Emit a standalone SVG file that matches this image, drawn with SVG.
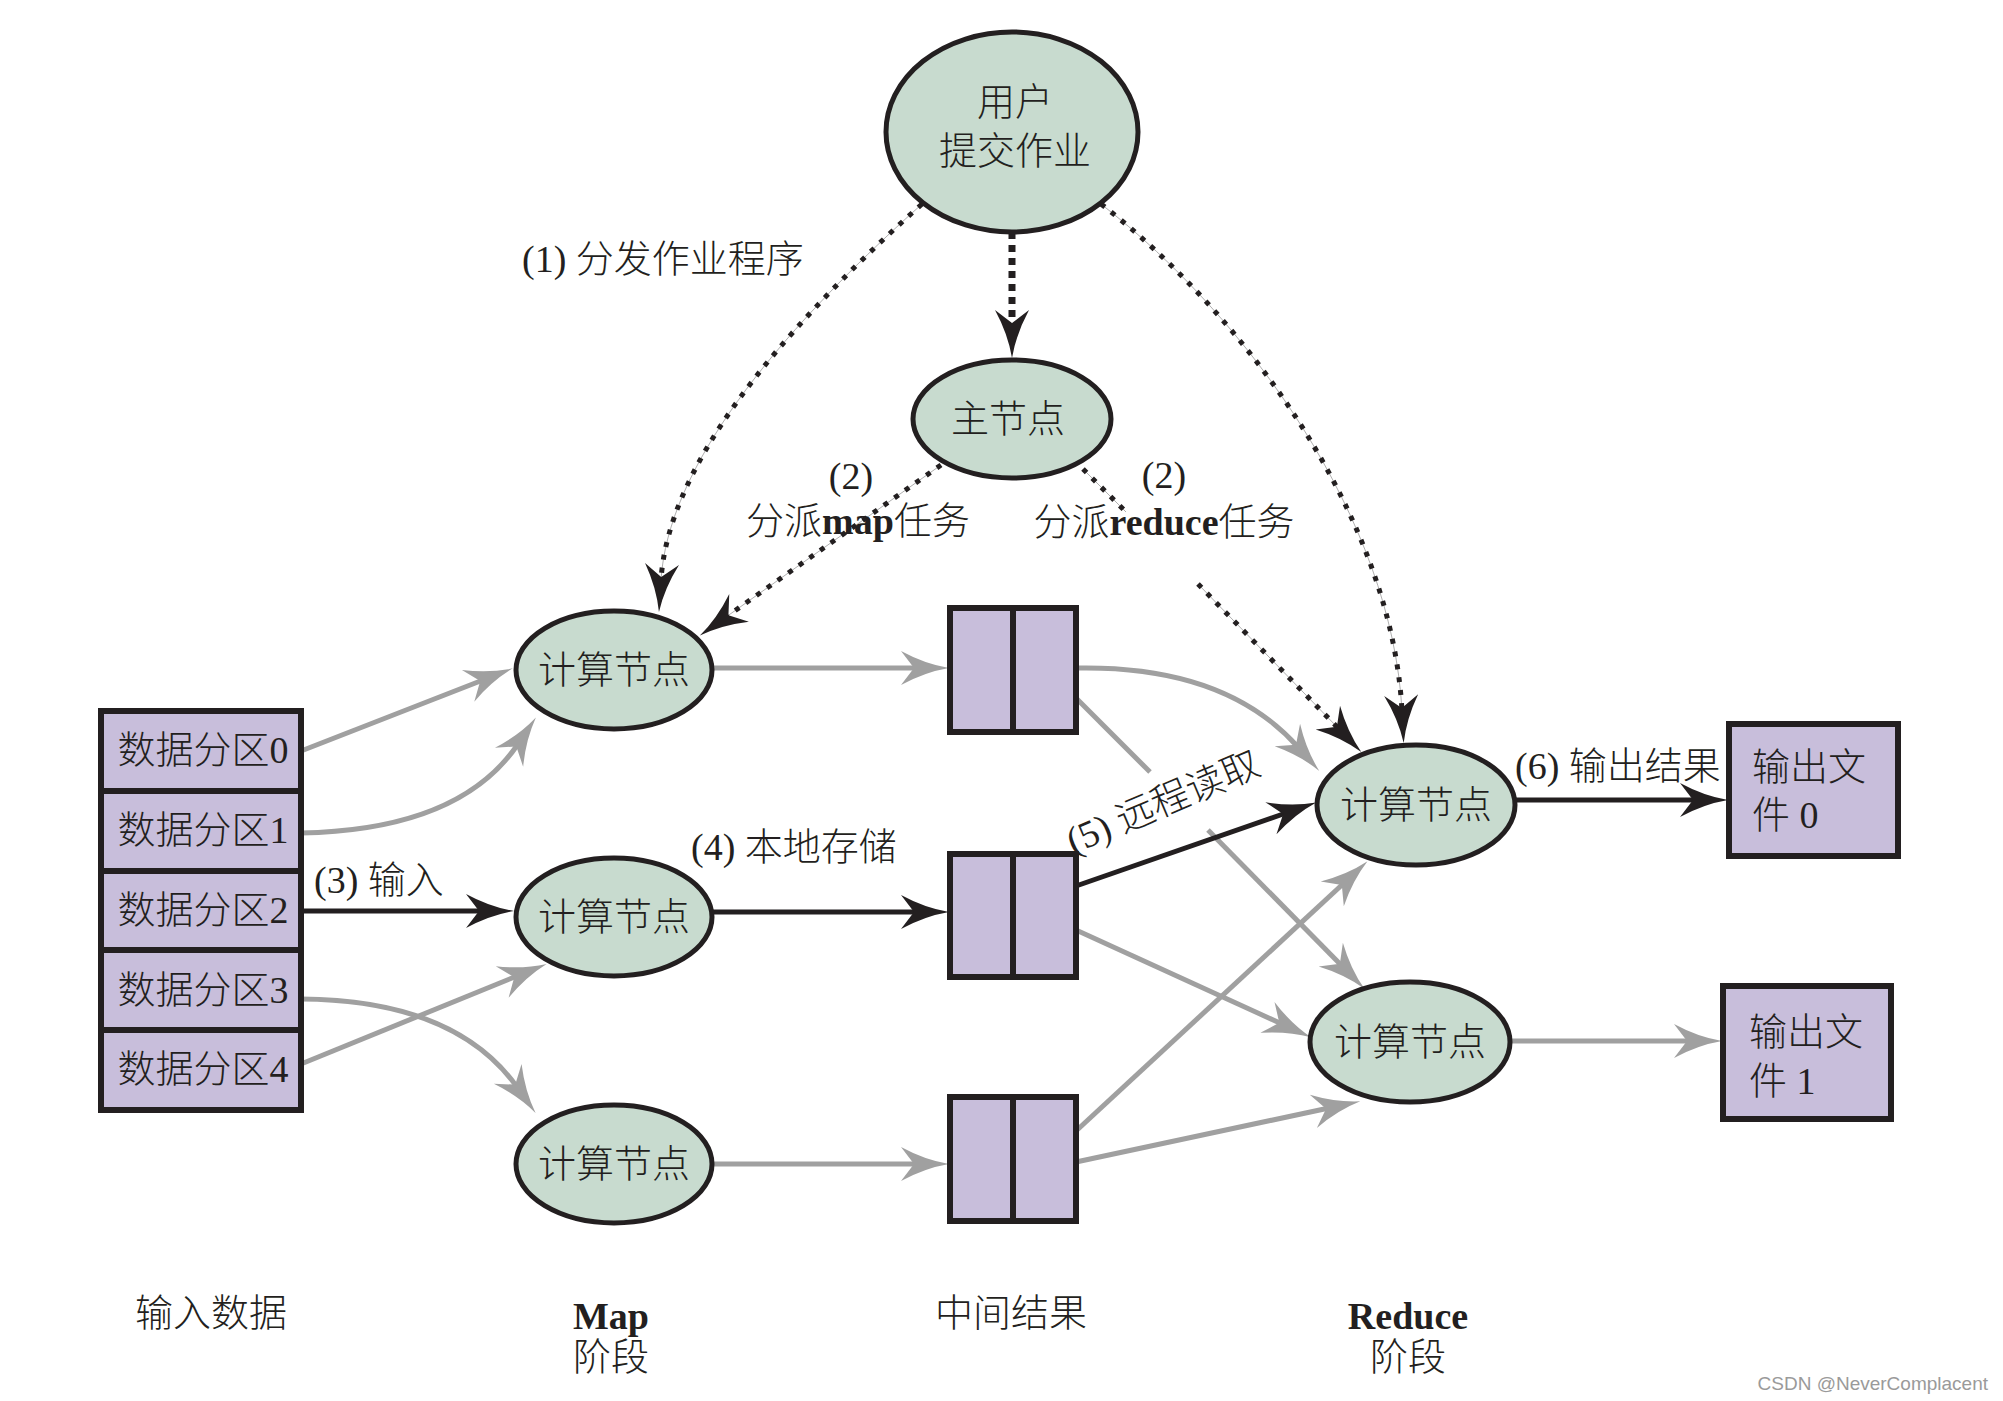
<svg xmlns="http://www.w3.org/2000/svg" width="2003" height="1401" viewBox="0 0 2003 1401">
<style>
.t{font-family:"Liberation Serif","Noto Sans CJK SC",serif;font-size:38px;fill:#231f20;dominant-baseline:central;font-weight:300}
.b{font-weight:bold}
.m{text-anchor:middle}
.node{fill:#c8dbcf;stroke:#231f20;stroke-width:5}
.box{fill:#c8bedb;stroke:#231f20;stroke-width:6}
.gray{fill:none;stroke:#a0a0a0;stroke-width:5}
.blk{fill:none;stroke:#231f20;stroke-width:5}
.dot{fill:none;stroke:#231f20;stroke-width:5;stroke-dasharray:5 8}
.thin{fill:none;stroke:#9a9a9a;stroke-width:0.8}
</style>
<defs>
<marker id="ab" markerUnits="userSpaceOnUse" viewBox="-18 -20 52 40" refX="0" refY="0" markerWidth="52" markerHeight="40" orient="auto" overflow="visible">
<path d="M32,0 Q8,-4 -16,-17 L-3,0 L-16,17 Q8,4 32,0 Z" fill="#231f20"/>
</marker>
<marker id="ag" markerUnits="userSpaceOnUse" viewBox="-18 -20 52 40" refX="0" refY="0" markerWidth="52" markerHeight="40" orient="auto" overflow="visible">
<path d="M32,0 Q8,-4 -16,-17 L-3,0 L-16,17 Q8,4 32,0 Z" fill="#a0a0a0"/>
</marker>
</defs>
<rect width="2003" height="1401" fill="#ffffff"/>

<g id="connectors">
<!-- dotted -->
<path d="M1012,232 L1012,326" fill="none" stroke="#231f20" stroke-width="7" stroke-dasharray="7 6" marker-end="url(#ab)"/>
<path class="thin" d="M922,204 C770,340 668,470 661,580"/>
<path class="dot" d="M922,204 C770,340 668,470 661,580" marker-end="url(#ab)"/>
<path class="thin" d="M1101,204 C1250,320 1392,520 1402,711"/>
<path class="dot" d="M1101,204 C1250,320 1392,520 1402,711" marker-end="url(#ab)"/>
<path class="thin" d="M941,465 L726,617"/>
<path class="dot" d="M941,465 L726,617" marker-end="url(#ab)"/>
<path class="thin" d="M1083,469 L1126,512"/>
<path class="dot" d="M1083,469 L1126,512"/>
<path class="thin" d="M1198,584 L1339,729"/>
<path class="dot" d="M1198,584 L1339,729" marker-end="url(#ab)"/>
<!-- input -->
<path class="gray" d="M301,751 L483,680" marker-end="url(#ag)"/>
<path class="gray" d="M301,833 Q460,830 518,744" marker-end="url(#ag)"/>
<path class="blk" d="M301,911 L482,911" marker-end="url(#ab)"/>
<path class="gray" d="M301,999 Q455,1000 517,1087" marker-end="url(#ag)"/>
<path class="gray" d="M301,1064 L517,976" marker-end="url(#ag)"/>
<!-- map to intermediate -->
<path class="gray" d="M713,668 L917,668" marker-end="url(#ag)"/>
<path class="blk" d="M713,912 L917,912" marker-end="url(#ab)"/>
<path class="gray" d="M713,1164 L917,1164" marker-end="url(#ag)"/>
<!-- intermediate to reduce -->
<path class="gray" d="M1076,668 Q1225,665 1298,747" marker-end="url(#ag)"/>
<path class="gray" d="M1076,698 L1150,772"/>
<path class="gray" d="M1208,830 L1342,966" marker-end="url(#ag)"/>
<path class="blk" d="M1076,886 L1286,813" marker-end="url(#ab)"/>
<path class="gray" d="M1076,930 L1282,1024" marker-end="url(#ag)"/>
<path class="gray" d="M1076,1131 L1344,883" marker-end="url(#ag)"/>
<path class="gray" d="M1076,1162 L1329,1108" marker-end="url(#ag)"/>
<!-- output -->
<path class="blk" d="M1515,800 L1696,800" marker-end="url(#ab)"/>
<path class="gray" d="M1510,1041 L1690,1041" marker-end="url(#ag)"/>
</g>

<g id="user">
<ellipse class="node" cx="1012" cy="132" rx="126" ry="100"/>
<text class="t m" x="1015" y="102">用户</text>
<text class="t m" x="1015" y="151">提交作业</text>
</g>
<g id="master">
<ellipse class="node" cx="1012" cy="419" rx="99" ry="59"/>
<text class="t m" x="1008" y="419">主节点</text>
</g>

<g id="partitions">
<rect class="box" x="101" y="711" width="200" height="399"/>
<line x1="101" y1="791" x2="301" y2="791" stroke="#231f20" stroke-width="6"/>
<line x1="101" y1="871" x2="301" y2="871" stroke="#231f20" stroke-width="6"/>
<line x1="101" y1="950" x2="301" y2="950" stroke="#231f20" stroke-width="6"/>
<line x1="101" y1="1030" x2="301" y2="1030" stroke="#231f20" stroke-width="6"/>
<text class="t m" x="203" y="750">数据分区0</text>
<text class="t m" x="203" y="830">数据分区1</text>
<text class="t m" x="203" y="910">数据分区2</text>
<text class="t m" x="203" y="990">数据分区3</text>
<text class="t m" x="203" y="1069">数据分区4</text>
</g>

<g id="map1">
<ellipse class="node" cx="614" cy="670" rx="98" ry="59"/>
<text class="t m" x="614" y="670">计算节点</text>
</g>
<g id="map2">
<ellipse class="node" cx="614" cy="917" rx="98" ry="59"/>
<text class="t m" x="614" y="917">计算节点</text>
</g>
<g id="map3">
<ellipse class="node" cx="614" cy="1164" rx="98" ry="59"/>
<text class="t m" x="614" y="1164">计算节点</text>
</g>

<g id="mid1">
<rect class="box" x="950" y="608" width="126" height="124"/>
<line x1="1013" y1="608" x2="1013" y2="732" stroke="#231f20" stroke-width="6"/>
</g>
<g id="mid2">
<rect class="box" x="950" y="854" width="126" height="123"/>
<line x1="1013" y1="854" x2="1013" y2="977" stroke="#231f20" stroke-width="6"/>
</g>
<g id="mid3">
<rect class="box" x="950" y="1097" width="126" height="124"/>
<line x1="1013" y1="1097" x2="1013" y2="1221" stroke="#231f20" stroke-width="6"/>
</g>

<g id="reduce1">
<ellipse class="node" cx="1416" cy="805" rx="99" ry="60"/>
<text class="t m" x="1416" y="805">计算节点</text>
</g>
<g id="reduce2">
<ellipse class="node" cx="1410" cy="1042" rx="100" ry="60"/>
<text class="t m" x="1410" y="1042">计算节点</text>
</g>

<g id="out0">
<rect class="box" x="1729" y="724" width="169" height="132"/>
<text class="t" x="1752" y="767">输出文</text>
<text class="t" x="1752" y="815">件 0</text>
</g>
<g id="out1">
<rect class="box" x="1723" y="986" width="168" height="133"/>
<text class="t" x="1749" y="1032">输出文</text>
<text class="t" x="1749" y="1081">件 1</text>
</g>

<g id="labels">
<text class="t" x="522" y="259">(1) 分发作业程序</text>
<text class="t m" x="851" y="476">(2)</text>
<text class="t m" x="858" y="521">分派<tspan class="b">map</tspan>任务</text>
<text class="t m" x="1164" y="475">(2)</text>
<text class="t m" x="1164" y="522">分派<tspan class="b">reduce</tspan>任务</text>
<text class="t" x="314" y="880">(3) 输入</text>
<text class="t" x="691" y="847">(4) 本地存储</text>
<text class="t m" x="1163" y="802" transform="rotate(-23 1163 802)">(5) 远程读取</text>
<text class="t" x="1515" y="766">(6) 输出结果</text>
<text class="t m" x="211" y="1313">输入数据</text>
<text class="t m b" x="611" y="1316">Map</text>
<text class="t m" x="611" y="1357">阶段</text>
<text class="t m" x="1011" y="1313">中间结果</text>
<text class="t m b" x="1408" y="1316">Reduce</text>
<text class="t m" x="1408" y="1357">阶段</text>
<text x="1988" y="1390" text-anchor="end" font-family="Liberation Sans, Arial, sans-serif" font-size="19" fill="#9a9a9a">CSDN @NeverComplacent</text>
</g>
</svg>
